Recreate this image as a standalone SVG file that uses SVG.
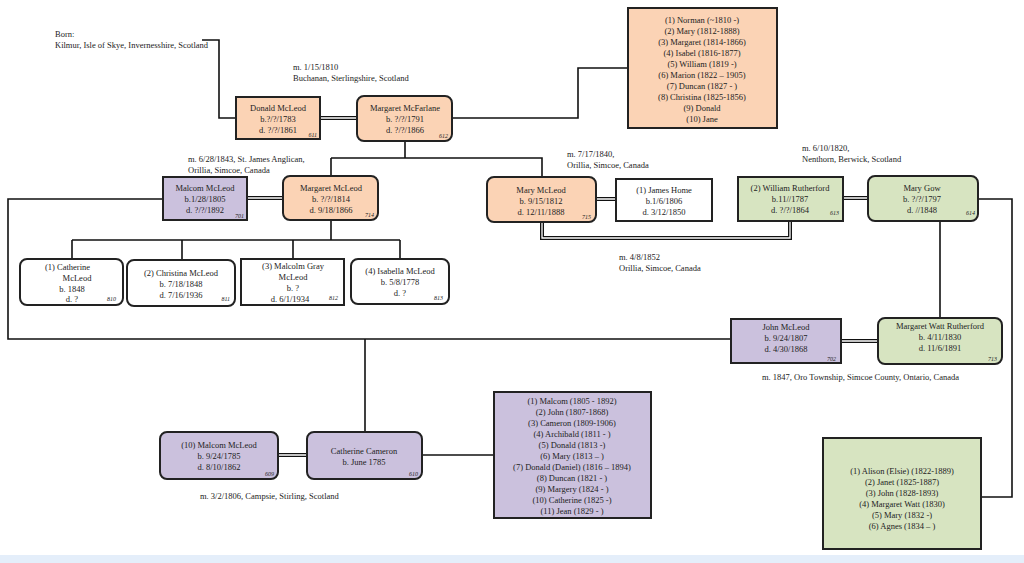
<svg xmlns="http://www.w3.org/2000/svg" width="1024" height="563" viewBox="0 0 1024 563">
<style>
text{font-family:"Liberation Serif",serif;font-size:8.5px;fill:#222}
.c{text-anchor:middle}
.id{font-size:6px;font-style:italic;text-anchor:end}
.n{stroke:#222;stroke-width:2}
.p{fill:#fbd3b5}.v{fill:#cbc1dd}.g{fill:#d7e4c1}.w{fill:#fff}
.l{fill:none;stroke:#111;stroke-width:1.6}
.d{fill:none;stroke:#111;stroke-width:4}
.di{fill:none;stroke:#fff;stroke-width:1.3}
</style>
<rect width="1024" height="563" fill="#fff"/>
<rect x="0" y="555" width="1024" height="8" fill="#e4eefa"/>
<g id="connectors">
<path class="l" d="M202 40H219V118H236"/>
<path class="l" d="M452 118H578V68H628"/>
<path class="l" d="M405 141V158M331 158H542V177M331 158V176"/>
<path class="l" d="M331 220V240M72 240H400M72 240V259M182 240V260M293 240V259M400 240V259"/>
<path class="l" d="M163 199H8V339H731M365 339V432"/>
<path class="l" d="M940 221V318"/>
<path class="l" d="M978 199H1012V497H981"/>
<path class="l" d="M422 455H494"/>
<path class="d" d="M320 118H357M247 198H283M596 199H616M843 198H868M841 341H878M278 455H307M542 222V238H790V221"/>
<path class="di" d="M320 118H357M247 198H283M596 199H616M843 198H868M841 341H878M278 455H307M542 222V238H790V221"/>
</g>
<g id="labels">
<text x="55" y="37">Born:</text><text x="55" y="48">Kilmur, Isle of Skye, Invernesshire, Scotland</text>
<text x="293" y="70">m. 1/15/1810</text><text x="293" y="81">Buchanan, Sterlingshire, Scotland</text>
<text x="188" y="162">m. 6/28/1843,  St. James Anglican,</text><text x="188" y="173">Orillia, Simcoe, Canada</text>
<text x="567" y="157">m. 7/17/1840,</text><text x="567" y="168">Orillia, Simcoe, Canada</text>
<text x="802" y="151">m. 6/10/1820,</text><text x="802" y="162">Nenthorn, Berwick, Scotland</text>
<text x="619" y="260">m. 4/8/1852</text><text x="619" y="271">Orillia, Simcoe, Canada</text>
<text x="762" y="380">m.  1847, Oro Township, Simcoe County, Ontario, Canada</text>
<text x="200" y="499">m. 3/2/1806,  Campsie, Stirling, Scotland</text>
</g>
<g id="n611"><rect class="n p" x="236" y="97" width="84" height="42"/><text class="c" x="278" y="111">Donald McLeod</text><text class="c" x="278" y="122">b.?/?/1783</text><text class="c" x="278" y="133">d.  ?/?/1861</text><text class="id" x="317" y="137">611</text></g>
<g id="n612"><rect class="n p" x="357" y="96" width="95" height="45" rx="7"/><text class="c" x="405" y="111">Margaret McFarlane</text><text class="c" x="405" y="122">b.  ?/?/1791</text><text class="c" x="405" y="133">d.  ?/?/1866</text><text class="id" x="448" y="138">612</text></g>
<g id="kids612"><rect class="n p" x="628" y="8" width="149" height="120"/>
<text class="c" x="702" y="23">(1)  Norman (~1810 -)</text><text class="c" x="702" y="34">(2)  Mary (1812-1888)</text><text class="c" x="702" y="45">(3)  Margaret (1814-1866)</text><text class="c" x="702" y="56">(4)  Isabel (1816-1877)</text><text class="c" x="702" y="67">(5)  William (1819 -)</text><text class="c" x="702" y="78">(6)  Marion (1822 – 1905)</text><text class="c" x="702" y="89">(7)  Duncan (1827 - )</text><text class="c" x="702" y="100">(8)  Christina (1825-1856)</text><text class="c" x="702" y="111">(9)  Donald</text><text class="c" x="702" y="122">(10) Jane</text></g>
<g id="n701"><rect class="n v" x="163" y="177" width="84" height="43"/><text class="c" x="205" y="191">Malcom McLeod</text><text class="c" x="205" y="202">b.1/28/1805</text><text class="c" x="205" y="213">d.  ?/?/1892</text><text class="id" x="244" y="218">701</text></g>
<g id="n714"><rect class="n p" x="283" y="176" width="95" height="44" rx="7"/><text class="c" x="331" y="191">Margaret McLeod</text><text class="c" x="331" y="202">b.  ?/?/1814</text><text class="c" x="331" y="213">d.  9/18/1866</text><text class="id" x="374" y="217">714</text></g>
<g id="n715"><rect class="n p" x="487" y="177" width="109" height="45" rx="7"/><text class="c" x="541" y="193">Mary McLeod</text><text class="c" x="541" y="204">b.  9/15/1812</text><text class="c" x="541" y="215">d.  12/11/1888</text><text class="id" x="591" y="219">715</text></g>
<g id="jameshome"><rect class="n w" x="616" y="179" width="96" height="42"/><text class="c" x="664" y="193">(1) James Home</text><text class="c" x="664" y="204">b.1/6/1806</text><text class="c" x="664" y="215">d.  3/12/1850</text></g>
<g id="n613"><rect class="n g" x="738" y="177" width="105" height="44"/><text class="c" x="790" y="191">(2) William Rutherford</text><text class="c" x="790" y="202">b.11//1787</text><text class="c" x="790" y="213">d.  ?/?/1864</text><text class="id" x="839" y="215">613</text></g>
<g id="n614"><rect class="n g" x="868" y="176" width="110" height="45" rx="7"/><text class="c" x="922" y="191">Mary Gow</text><text class="c" x="922" y="202">b.  ?/?/1797</text><text class="c" x="922" y="213">d.  //1848</text><text class="id" x="975" y="215">614</text></g>
<g id="n810"><rect class="n w" x="20" y="259" width="103" height="46" rx="7"/><text x="45" y="270">(1)  Catherine</text><text class="c" x="77" y="281">McLeod</text><text class="c" x="72" y="292">b.  1848</text><text class="c" x="72" y="302">d.  ?</text><text class="id" x="116" y="301">810</text></g>
<g id="n811"><rect class="n w" x="127" y="260" width="108" height="46" rx="7"/><text class="c" x="181" y="276">(2) Christina McLeod</text><text class="c" x="181" y="287">b. 7/18/1848</text><text class="c" x="181" y="298">d.  7/16/1936</text><text class="id" x="230" y="301">811</text></g>
<g id="n812"><rect class="n w" x="241" y="259" width="103" height="46"/><text class="c" x="293" y="269">(3) Malcolm Gray</text><text class="c" x="293" y="280">McLeod</text><text class="c" x="293" y="291">b. ?</text><text class="c" x="290" y="302">d.  6/1/1934</text><text class="id" x="338" y="300">812</text></g>
<g id="n813"><rect class="n w" x="351" y="259" width="98" height="45" rx="7"/><text class="c" x="400" y="274">(4) Isabella McLeod</text><text class="c" x="400" y="285">b. 5/8/1778</text><text class="c" x="400" y="296">d.  ?</text><text class="id" x="443" y="300">813</text></g>
<g id="n702"><rect class="n v" x="731" y="319" width="110" height="44"/><text class="c" x="786" y="330">John  McLeod</text><text class="c" x="786" y="341">b. 9/24/1807</text><text class="c" x="786" y="352">d. 4/30/1868</text><text class="id" x="836" y="361">702</text></g>
<g id="n713"><rect class="n g" x="878" y="318" width="124" height="46" rx="7"/><text class="c" x="940" y="329">Margaret Watt Rutherford</text><text class="c" x="940" y="340">b. 4/11/1830</text><text class="c" x="940" y="351">d.  11/6/1891</text><text class="id" x="997" y="361">713</text></g>
<g id="kids713"><rect class="n g" x="823" y="438" width="158" height="111"/>
<text class="c" x="902" y="474">(1)  Alison (Elsie) (1822-1889)</text><text class="c" x="902" y="485">(2)  Janet (1825-1887)</text><text class="c" x="902" y="496">(3)  John (1828-1893)</text><text class="c" x="902" y="507">(4)  Margaret Watt (1830)</text><text class="c" x="902" y="518">(5)  Mary (1832 -)</text><text class="c" x="902" y="529">(6)  Agnes (1834 – )</text></g>
<g id="n609"><rect class="n v" x="160" y="432" width="118" height="47" rx="7"/><text class="c" x="219" y="448">(10) Malcom McLeod</text><text class="c" x="219" y="459">b. 9/24/1785</text><text class="c" x="219" y="470">d.  8/10/1862</text><text class="id" x="274" y="476">609</text></g>
<g id="n610"><rect class="n v" x="307" y="432" width="115" height="47" rx="7"/><text class="c" x="364" y="454">Catherine Cameron</text><text class="c" x="364" y="465">b. June 1785</text><text class="id" x="418" y="476">610</text></g>
<g id="kids610"><rect class="n v" x="494" y="392" width="157" height="126"/>
<text class="c" x="572" y="404">(1)  Malcom (1805 - 1892)</text><text class="c" x="572" y="415">(2)  John (1807-1868)</text><text class="c" x="572" y="426">(3)  Cameron (1809-1906)</text><text class="c" x="572" y="437">(4)  Archibald (1811 - )</text><text class="c" x="572" y="448">(5)  Donald (1813 -)</text><text class="c" x="572" y="459">(6)  Mary (1813 – )</text><text class="c" x="572" y="470">(7)  Donald (Daniel) (1816 – 1894)</text><text class="c" x="572" y="481">(8)  Duncan (1821 - )</text><text class="c" x="572" y="492">(9)  Margery (1824 - )</text><text class="c" x="572" y="503">(10) Catherine (1825 -)</text><text class="c" x="572" y="514">(11) Jean (1829 - )</text></g>
</svg>
